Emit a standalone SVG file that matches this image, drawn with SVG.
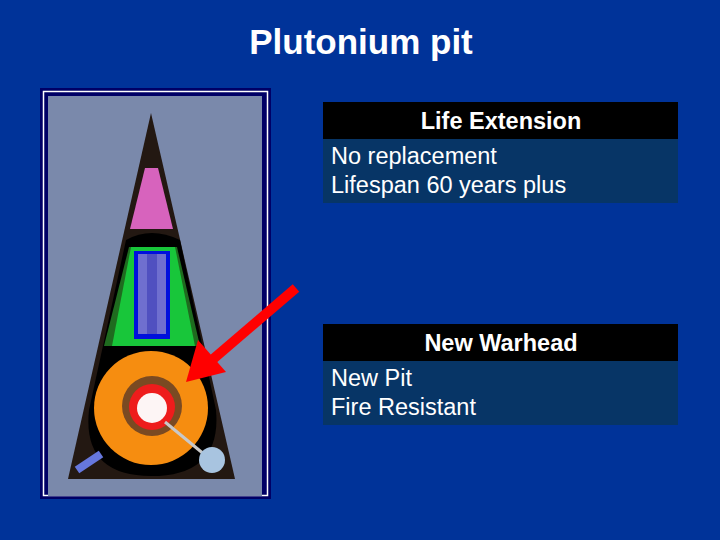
<svg xmlns="http://www.w3.org/2000/svg" width="720" height="540" viewBox="0 0 720 540">
<style>
.t{font-family:"Liberation Sans",Arial,sans-serif;fill:#fff}
.h{font-size:23.5px;font-weight:bold;text-anchor:middle}
.b{font-size:23.5px}
</style>
<rect width="720" height="540" fill="#003399"/>
<text class="t" x="361" y="54" font-size="35" font-weight="bold" text-anchor="middle">Plutonium pit</text>
<g id="pit">
<rect x="40" y="88" width="231" height="411" fill="#000066"/>
<rect x="43.5" y="91.5" width="224" height="404" fill="none" stroke="#fff" stroke-width="1.5"/>
<rect x="48" y="96" width="214" height="400" fill="#7A89AB"/>
<polygon points="151,113 68,479 235,479" fill="#231812"/>
<polygon points="145,168 158,168 173,229 130,229" fill="#D763BD"/>
<path d="M126,240 Q151,226 180,240 L216,410 Q222,476 151,476 Q82,476 89,410 Z" fill="#000"/>
<polygon points="129,247 177,247 200,346 104,346" fill="#1F6B1F"/>
<polygon points="131,247 175,247 195,346 112,346" fill="#18C63A"/>
<circle cx="151" cy="408" r="57" fill="#F68D10"/>
<rect x="134" y="251" width="36" height="88" fill="#0010DD"/>
<rect x="138" y="254" width="28" height="80" fill="#6F6FCF"/>
<rect x="147" y="254" width="10" height="80" fill="#5050C0"/>
<circle cx="152" cy="406" r="30" fill="#7A4A22"/>
<circle cx="152" cy="407" r="23" fill="#EE1C1C"/>
<circle cx="152" cy="408" r="15" fill="#FDF5F5"/>
<line x1="165" y1="422" x2="205" y2="455" stroke="#C8C8C8" stroke-width="3"/>
<circle cx="212" cy="460" r="13" fill="#A8C4E0"/>
<line x1="77" y1="470" x2="101" y2="454" stroke="#6677DD" stroke-width="8"/>
</g>
<g id="arrow">
<line x1="296" y1="288" x2="212" y2="360" stroke="#FF0000" stroke-width="10"/>
<polygon points="186,382 198,340 226,372" fill="#FF0000"/>
</g>
<g id="life">
<rect x="323" y="102" width="355" height="37" fill="#000"/>
<rect x="323" y="139" width="355" height="64" fill="#073566"/>
<text class="t h" x="501" y="129">Life Extension</text>
<text class="t b" x="331" y="164">No replacement</text>
<text class="t b" x="331" y="193">Lifespan 60 years plus</text>
</g>
<g id="new">
<rect x="323" y="324" width="355" height="37" fill="#000"/>
<rect x="323" y="361" width="355" height="64" fill="#073566"/>
<text class="t h" x="501" y="351">New Warhead</text>
<text class="t b" x="331" y="386">New Pit</text>
<text class="t b" x="331" y="415">Fire Resistant</text>
</g>
</svg>
